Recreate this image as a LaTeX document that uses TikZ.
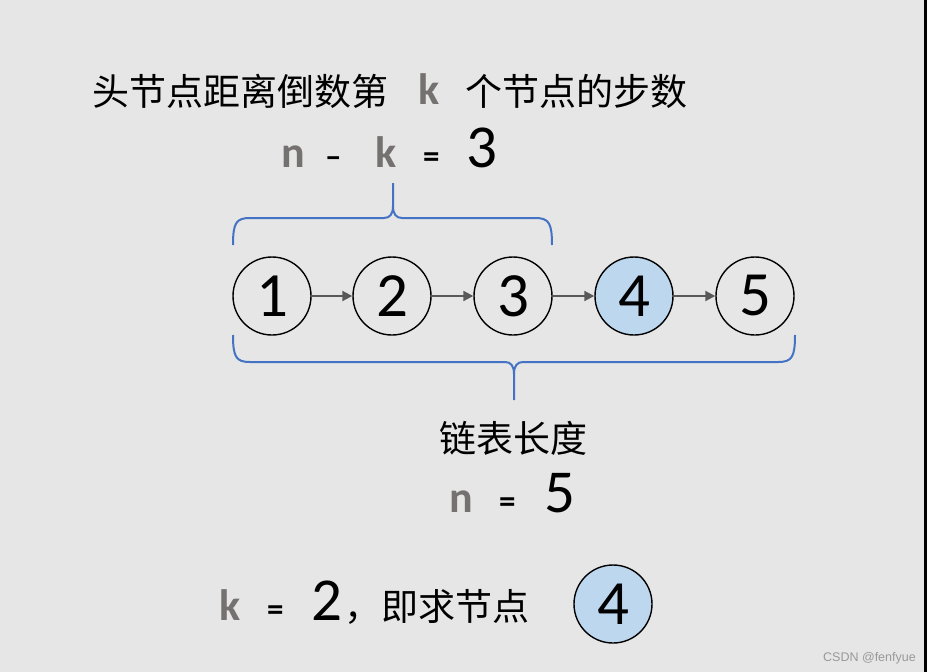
\documentclass[tikz,border=0pt]{standalone}
\usepackage{fontspec}
\setmainfont{Carlito}
\newfontfamily\cjk{Noto Sans CJK SC}
\newfontfamily\calf{Carlito}
\newfontfamily\wmf{Liberation Sans}
\usetikzlibrary{arrows.meta}
\definecolor{bgc}{HTML}{E6E6E6}
\definecolor{bracec}{HTML}{4472C4}
\definecolor{fillc}{HTML}{BDD7EE}
\definecolor{grayt}{HTML}{767171}
\definecolor{arrc}{HTML}{595959}
\newcommand\fsz[1]{\fontsize{#1}{#1}\selectfont}
\begin{document}
\begin{tikzpicture}[x=1pt,y=-1pt,
  lnode/.style={circle, draw=black, line width=1.4pt, minimum size=78pt, inner sep=0pt, font={\calf\fsz{63}}},
  arr/.style={draw=arrc, line width=2pt, -{Triangle[length=10pt,width=10pt]}},
  brc/.style={draw=bracec, line width=2pt},
  cn/.style={anchor=base west, inner sep=0pt, font={\cjk\fsz{37}}},
  gk/.style={anchor=base west, inner sep=0pt, text=grayt, font={\calf\bfseries\fsz{44}}},
  sym/.style={anchor=base west, inner sep=0pt, font={\calf\bfseries\fsz{33}}},
  big/.style={anchor=base west, inner sep=0pt, font={\calf\fsz{61}}}]
\useasboundingbox (0,0) rectangle (927,672);
\fill[bgc] (0,0) rectangle (924,672);
\fill[black] (924,0) rectangle (927,672);

% line 1
\node[cn] (t1) at (92,105) {头节点距离倒数第};
\node[gk] (t1k) at (418,104) {k};
\node[cn] (t2) at (465,105) {个节点的步数};
% line 2
\node[gk] (n1) at (281,167) {n};
\node[sym] (d1) at (325,167) {–};
\node[gk] (k1) at (375,167) {k};
\node[sym] (e1) at (423,167) {=};
\node[big] (three) at (466,167) {3};

% top brace
\draw[brc] (233,245) .. controls (233,223) and (236,218) .. (250,218) -- (384,218)
  .. controls (390,218) and (393,214) .. (393,206) -- (393,183);
\draw[brc] (393,206) .. controls (393,214) and (396,218) .. (402,218) -- (535,218)
  .. controls (549,218) and (552,223) .. (552,245);

% list
\node[lnode] (c1) at (272,296) {1};
\node[lnode] (c2) at (392,296) {2};
\node[lnode] (c3) at (513,296) {3};
\node[lnode, fill=fillc] (c4) at (634,296) {4};
\node[lnode] (c5) at (755,296) {5};
\draw[arr] (c1) -- (c2);
\draw[arr] (c2) -- (c3);
\draw[arr] (c3) -- (c4);
\draw[arr] (c4) -- (c5);

% bottom brace
\draw[brc] (233,335) .. controls (233,357) and (236,362) .. (250,362) -- (505,362)
  .. controls (511,362) and (514,366) .. (514,374) -- (514,400);
\draw[brc] (514,374) .. controls (514,366) and (517,362) .. (523,362) -- (778,362)
  .. controls (792,362) and (795,357) .. (795,335);

\node[cn] (len) at (439,452) {链表长度};
\node[gk] (n2) at (449,512) {n};
\node[sym] (e2) at (499,512) {=};
\node[big] (five) at (544,512) {5};

\node[gk] (k2) at (219,620) {k};
\node[sym] (e3) at (267,620) {=};
\node[big] (two) at (311,620) {2};
\node[cn] (comma) at (344,620) {，即求节点};
\node[lnode, fill=fillc] (ans) at (613,604) {4};

\node[anchor=base west, inner sep=0pt, text=black!40, font={\wmf\fsz{12.5}}] (wm) at (823,661) {CSDN @fenfyue};
\end{tikzpicture}
\end{document}
